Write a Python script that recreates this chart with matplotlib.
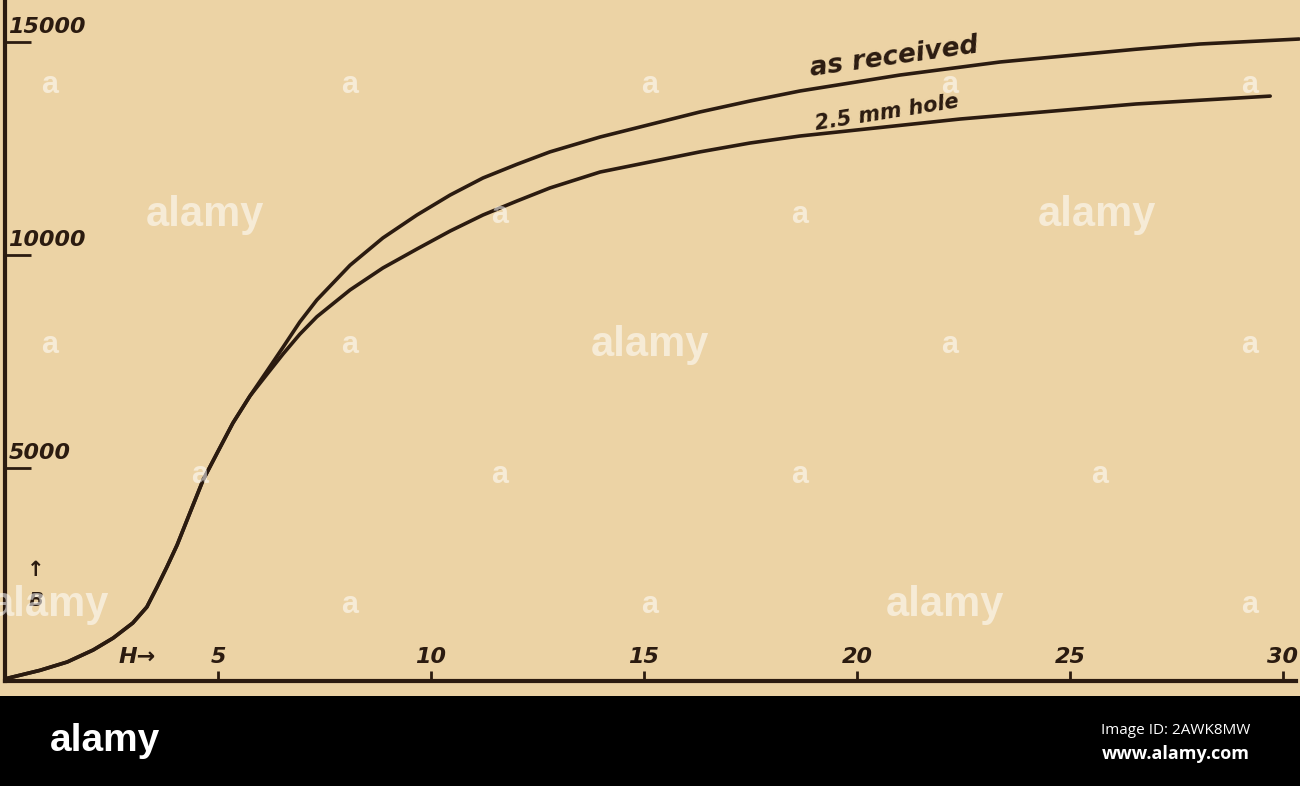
import numpy as np
import matplotlib.pyplot as plt

# B-H magnetisation curves
H_received = [0, 0.82, 1.46, 2.07, 2.54, 3.00, 3.33, 3.57, 3.80, 4.04, 4.34, 4.65,
              4.98, 5.35, 5.75, 6.15, 6.53, 6.92, 7.32, 8.10, 8.87, 9.67, 10.45,
              11.22, 12.02, 12.79, 13.97, 16.31, 17.49, 18.66, 21.01, 23.36, 26.55,
              28.05, 30.38]
B_received = [50, 250, 446, 728, 1009, 1362, 1737, 2207, 2676, 3192, 3944, 4718,
              5352, 6056, 6690, 7277, 7840, 8427, 8944, 9760, 10400, 10939, 11408,
              11808, 12130, 12420, 12770, 13357, 13615, 13850, 14225, 14531, 14830,
              14953, 15070]

H_hole = [0, 0.82, 1.46, 2.07, 2.54, 3.00, 3.33, 3.57, 3.80, 4.04, 4.34, 4.65,
          4.98, 5.35, 5.75, 6.15, 6.53, 6.92, 7.32, 8.10, 8.87, 9.67, 10.45,
          11.22, 12.02, 12.79, 13.97, 16.31, 17.49, 18.66, 22.42, 26.55, 29.7]
B_hole = [50, 250, 446, 728, 1009, 1362, 1737, 2207, 2676, 3192, 3944, 4718,
          5352, 6056, 6690, 7200, 7680, 8140, 8550, 9180, 9695, 10140, 10563,
          10939, 11268, 11573, 11948, 12420, 12629, 12793, 13192, 13545, 13730]

x_ticks = [5, 10, 15, 20, 25, 30]
y_ticks = [5000, 10000, 15000]

paper = '#ecd3a5'
ink = '#2b1b10'
hand = dict(family='DejaVu Sans', style='italic', weight='bold', color=ink)

fig = plt.figure(figsize=(13, 7.86), dpi=100)
fig.patch.set_facecolor(paper)

#*---------- black strip at the bottom ----------
strip = fig.add_axes([0, 0, 1, 90 / 786])
strip.set_facecolor('black')
strip.set_xticks([]); strip.set_yticks([])
for s in strip.spines.values():
    s.set_visible(False)
strip.text(50 / 1300, 0.5, 'alamy', color='white', fontsize=28, weight='bold',
           family='Liberation Sans', ha='left', va='center', transform=strip.transAxes)
strip.text(1250 / 1300, 0.62, 'Image ID: 2AWK8MW', color='white', fontsize=11,
           family='Open Sans', ha='right', va='center', transform=strip.transAxes)
strip.text(1250 / 1300, 0.36, 'www.alamy.com', color='white', fontsize=13, weight='bold',
           family='Open Sans', ha='right', va='center', transform=strip.transAxes)

#*---------- the chart ----------
ax = fig.add_axes([5 / 1300, 105 / 786, 1295 / 1300, 681 / 786])
ax.set_facecolor(paper)
ax.set_xlim(0, 30.4)
ax.set_ylim(0, 15986)

ax.plot(H_received, B_received, color=ink, lw=2.6, solid_capstyle='round', solid_joinstyle='round')
ax.plot(H_hole, B_hole, color=ink, lw=2.6, solid_capstyle='round', solid_joinstyle='round')

for side in ['top', 'right']:
    ax.spines[side].set_visible(False)
for side in ['left', 'bottom']:
    ax.spines[side].set_linewidth(3)
    ax.spines[side].set_color(ink)
ax.spines['bottom'].set_bounds(0, 30.3)

ax.set_xticks(x_ticks)
ax.set_yticks(y_ticks)
ax.tick_params(axis='x', direction='in', length=7, width=2, color=ink, labelbottom=False)
ax.tick_params(axis='y', direction='in', length=19, width=2, color=ink, labelleft=False)

for x in x_ticks:
    ax.text(x, 330, str(x), ha='center', va='bottom', fontsize=16, **hand)
for y in y_ticks:
    ax.text(0.08, y + 110, str(y), ha='left', va='bottom', fontsize=16, **hand)

ax.text(3.1, 330, 'H\u2192', ha='center', va='bottom', fontsize=16, **hand)
ax.text(0.73, 2600, '\u2191', ha='center', va='center', fontsize=15, **hand)
ax.text(0.73, 1880, 'B', ha='center', va='center', fontsize=14, **hand)

ax.text(20.87, 14650, 'as received', ha='center', va='center', rotation=8, fontsize=19, **hand)
ax.text(20.7, 13330, '2.5 mm hole', ha='center', va='center', rotation=9, fontsize=15, **hand)

#*---------- faint watermarks over the scan ----------
wm = dict(color='white', alpha=0.55, weight='bold', ha='center', va='center',
          family='Liberation Sans', transform=fig.transFigure)
for px, py in [(205, 215), (650, 345), (1097, 215), (50, 605), (945, 605)]:
    fig.text(px / 1300, 1 - py / 786, 'alamy', fontsize=30, **wm)
for px, py in [(50, 85), (350, 85), (650, 85), (950, 85), (1250, 85),
               (500, 215), (800, 215),
               (50, 345), (350, 345), (950, 345), (1250, 345),
               (200, 475), (500, 475), (800, 475), (1100, 475),
               (350, 605), (650, 605), (1250, 605)]:
    fig.text(px / 1300, 1 - py / 786, 'a', fontsize=22, **wm)

fig.savefig('out.png', dpi=100, facecolor=fig.get_facecolor())
